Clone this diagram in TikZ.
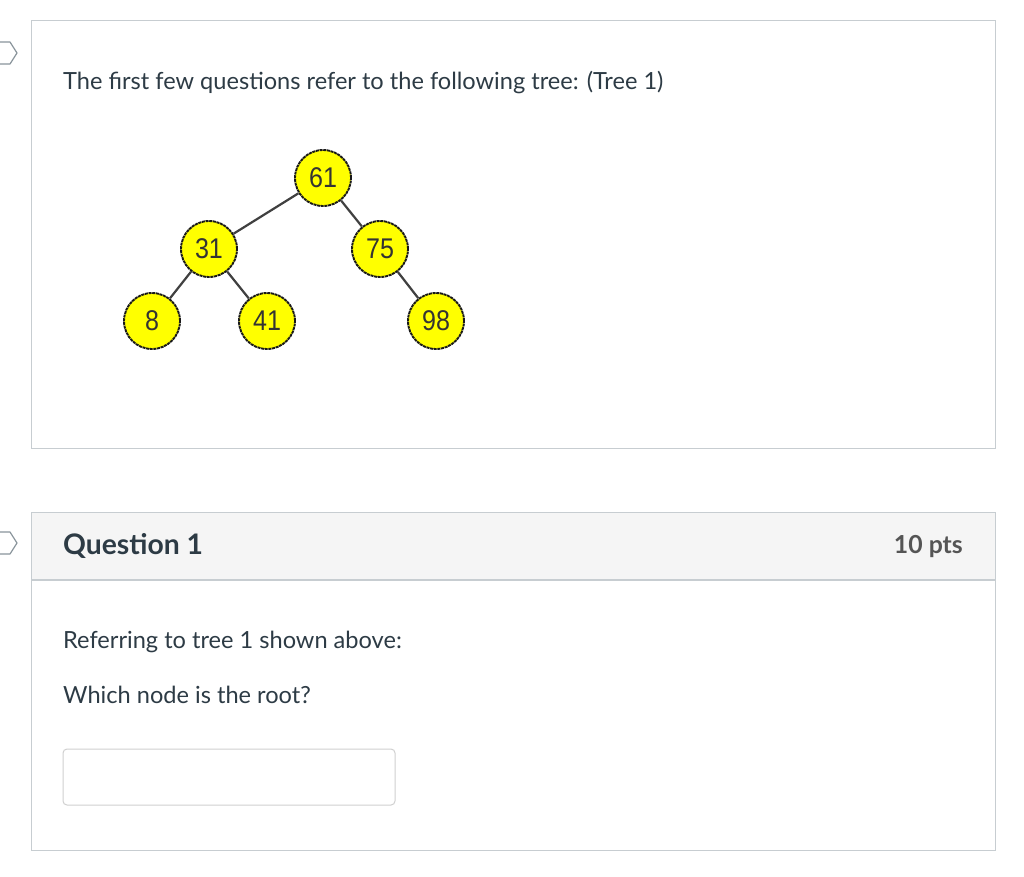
\documentclass[tikz,border=0pt]{standalone}
\usepackage{graphicx}
\usepackage{fontspec}
\setmainfont{Lato}
\newfontfamily\arialfont{Liberation Sans}
\definecolor{txt}{HTML}{2D3B45}
\definecolor{panelborder}{HTML}{C7CDD1}
\definecolor{headfill}{HTML}{F5F5F5}
\definecolor{ptsgray}{HTML}{555555}
\definecolor{nodeyellow}{HTML}{FFFF00}
\definecolor{boxborder}{HTML}{D0D0D0}
\definecolor{tabgray}{HTML}{8A959C}
\newcommand{\nlabel}[1]{\scalebox{0.88}[1]{#1}}
\tikzset{
  panel/.style={draw=panelborder, line width=1pt},
  tab/.style={draw=tabgray, fill=white, line width=1.2pt, line join=round},
  tnode/.style={circle, fill=nodeyellow, draw=black!90, line width=1.9pt,
    dash pattern=on 3pt off 0.7pt, minimum size=56pt, inner sep=0pt,
    font=\arialfont\fontsize{28.5}{28.5}\selectfont, text=black!80},
  tedge/.style={draw=black!75, line width=2.2pt},
  body/.style={anchor=west, font=\fontsize{23.6}{28}\selectfont, text=txt, inner sep=0pt},
}
\begin{document}
\begin{tikzpicture}[x=1pt, y=-1pt]
\useasboundingbox (0,0) rectangle (1024,876);
\fill[white] (0,0) rectangle (1024,876);
% top panel
\draw[panel] (31,20) rectangle (995,448);
\draw[tab] (-2,42) -- (10,42) -- (17,53) -- (10,64) -- (-2,64);
\node[body] (title) at (63,82) {The first few questions refer to the following tree: (Tree 1)};
% tree
\node[tnode] (n61) at (323,178) {\nlabel{61}};
\node[tnode] (n31) at (209,249) {\nlabel{31}};
\node[tnode] (n75) at (380,249) {\nlabel{75}};
\node[tnode] (n8) at (152,321) {\nlabel{8}};
\node[tnode] (n41) at (267,321) {\nlabel{41}};
\node[tnode] (n98) at (436,321) {\nlabel{98}};
\draw[tedge] (n61) -- (n31);
\draw[tedge] (n61) -- (n75);
\draw[tedge] (n31) -- (n8);
\draw[tedge] (n31) -- (n41);
\draw[tedge] (n75) -- (n98);
% bottom panel
\fill[headfill] (31,512) rectangle (995,580);
\draw[panelborder, line width=1.5pt] (31,580) -- (995,580);
\draw[panel] (31,512) rectangle (995,850);
\draw[tab] (-2,532) -- (10,532) -- (17,543) -- (10,554) -- (-2,554);
\node[body, font=\bfseries\fontsize{28.3}{32}\selectfont] (q1) at (63,546) {Question 1};
\node[anchor=east, inner sep=0pt, font=\bfseries\fontsize{24.8}{28}\selectfont, text=ptsgray] (pts) at (963,546) {10 pts};
\node[body] (ref) at (63,642) {Referring to tree 1 shown above:};
\node[body] (which) at (63,695) {Which node is the root?};
\draw[draw=boxborder, line width=1pt, rounded corners=4pt] (63,749) rectangle (395,805);
\end{tikzpicture}
\end{document}
